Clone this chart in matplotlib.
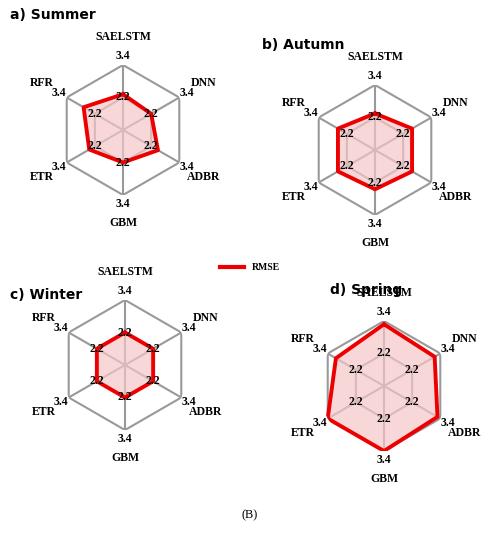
import numpy as np
import matplotlib.pyplot as plt
from matplotlib.lines import Line2D

labels = ["SAELSTM", "DNN", "ADBR", "GBM", "ETR", "RFR"]
summer = [2.32, 2.2, 2.49, 2.2, 2.44, 2.68]
autumn = [2.35, 2.58, 2.58, 2.45, 2.58, 2.58]
winter = [2.2, 2.2, 2.2, 2.2, 2.2, 2.2]
spring = [3.28, 3.16, 3.28, 3.4, 3.4, 3.05]
titles = ["a) Summer", "b) Autumn", "c) Winter", "d) Spring"]
series = [summer, autumn, winter, spring]
rmin, rmax = 1.0, 3.4
grid_vals = [2.2, 3.4]

fig = plt.figure(figsize=(4.99, 5.5), dpi=100)
W, H = 499, 550
centers = [(123, 130), (375, 150), (125, 365), (384, 386)]
title_pos = [(10, 15), (262, 45), (10, 295), (330, 290)]
R = 65
theta = np.linspace(0, 2*np.pi, len(labels), endpoint=False)
tc = np.append(theta, theta[0])
serif = "Liberation Serif"
for (cx, cy), (tx, ty), t, vals in zip(centers, title_pos, titles, series):
    ax = fig.add_axes([(cx-R)/W, 1-(cy+R)/H, 2*R/W, 2*R/H], projection="polar")
    ax.set_theta_zero_location("N"); ax.set_theta_direction(-1)
    ax.set_ylim(rmin, rmax)
    ax.grid(False); ax.spines["polar"].set_visible(False)
    ax.set_xticks([]); ax.set_yticks([])
    ax.patch.set_alpha(0)
    for g in grid_vals:
        ax.plot(tc, [g]*7, color="#999999", lw=1.5, zorder=1)
    for a in theta:
        ax.plot([a, a], [rmin, rmax], color="#999999", lw=1.5, zorder=1)
    v = np.append(vals, vals[0])
    ax.fill(tc, v, color="#f4c6c8", alpha=0.7, zorder=2)
    ax.plot(tc, v, color="#ee0000", lw=2.8, zorder=3)
    for a, lab in zip(theta, labels):
        ax.text(a, 2.2, "2.2", ha="center", va="center", fontsize=8.5, fontweight="bold", family=serif, zorder=4)
        ax.text(a, 3.72, "3.4", ha="center", va="center", fontsize=8.5, fontweight="bold", family=serif)
        ax.text(a, 4.45, lab, ha="center", va="center", fontsize=8.5, fontweight="bold", family=serif)
    fig.text(tx/W, 1-ty/H, t, fontsize=10, fontweight="bold", ha="left", va="center")

fig.legend(handles=[Line2D([], [], color="#ee0000", lw=3)], labels=["RMSE"],
           loc="center", bbox_to_anchor=(250/W, 1-268/H), frameon=False,
           prop={"family": serif, "weight": "bold", "size": 7}, handlelength=2.5)
fig.text(0.5, 1-515/H, "(B)", ha="center", va="center", fontsize=9, family=serif)
fig.savefig("out.png", dpi=100)
